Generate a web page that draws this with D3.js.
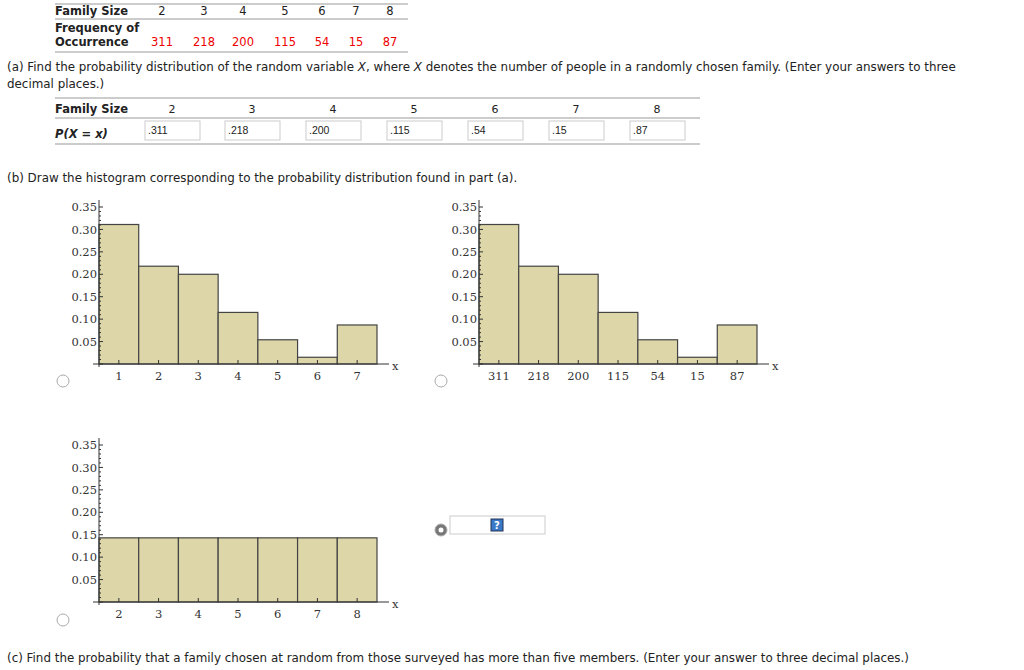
<!DOCTYPE html><html><head><meta charset="utf-8">
<script src="https://cdn.jsdelivr.net/npm/d3@7"></script>
<style>body{margin:0;background:#fff}</style></head><body>
<script>
const familySizes=[2,3,4,5,6,7,8];
const frequencies=[311,218,200,115,54,15,87];
const enteredAnswers=[".311",".218",".200",".115",".54",".15",".87"];
const histA=[0.311,0.218,0.200,0.115,0.054,0.015,0.087];
const labelsA=["1","2","3","4","5","6","7"];
const labelsB=["311","218","200","115","54","15","87"];
const histC=[0.143,0.143,0.143,0.143,0.143,0.143,0.143];
const labelsC=["2","3","4","5","6","7","8"];
const yTicks=[0.05,0.10,0.15,0.20,0.25,0.30,0.35];

const svg=d3.select("body").append("svg").attr("width",1024).attr("height",670);
const SANS="DejaVu Sans, Verdana, sans-serif";
const SERIF="DejaVu Serif, Liberation Serif, serif";
function txt(x,y,s,o={}){const t=svg.append("text").attr("x",x).attr("y",y).text(s)
 .attr("font-family",o.f||SANS).attr("font-size",o.size||12).attr("fill",o.fill||"#222")
 .attr("font-weight",o.w||"normal").attr("text-anchor",o.a||"start");if(o.it)t.attr("font-style","italic");return t;}
function hline(x1,x2,y,c="#999",w=1){svg.append("line").attr("x1",x1).attr("x2",x2).attr("y1",y).attr("y2",y).attr("stroke",c).attr("stroke-width",w);}

hline(55,408,4);hline(55,408,19);hline(55,408,52);
txt(55,15,"Family Size",{w:"bold",size:11.5});
txt(55,32,"Frequency of",{w:"bold",size:11.5});txt(55,46,"Occurrence",{w:"bold",size:11.5});
const colX1=[162,204,243,285,322,356,390];
familySizes.forEach((v,i)=>txt(colX1[i],15,v,{a:"middle",size:11.5}));
frequencies.forEach((v,i)=>txt(colX1[i],46,v,{a:"middle",size:11.5,fill:"#e00"}));

const pa=txt(7,71,"(a) Find the probability distribution of the random variable ",{size:11.9});
pa.append("tspan").text("X").attr("font-style","italic");
pa.append("tspan").text(", where ");
pa.append("tspan").text("X").attr("font-style","italic");
pa.append("tspan").text(" denotes the number of people in a randomly chosen family. (Enter your answers to three");
txt(7,88,"decimal places.)",{size:11.9});

hline(55,700,98);hline(55,700,118);hline(55,700,144);
txt(55,113,"Family Size",{w:"bold",size:11.5});
txt(55,138,"P(X = x)",{w:"bold",size:11.5,it:true});
const colX2=[172,252,333,414,495,576,657];
familySizes.forEach((v,i)=>txt(colX2[i],113,v,{a:"middle",size:11}));
enteredAnswers.forEach((v,i)=>{svg.append("rect").attr("x",colX2[i]-27).attr("y",121).attr("width",55).attr("height",19)
 .attr("fill","#fff").attr("stroke","#ccc");txt(colX2[i]-24,134,v,{size:10.5,f:"Liberation Sans, Arial"});});

txt(7,182,"(b) Draw the histogram corresponding to the probability distribution found in part (a).",{size:11.9});

function hist(ox,base,vals,labels){
 const x=d3.scaleLinear().domain([0,7]).range([ox,ox+278]);
 const y=d3.scaleLinear().domain([0,0.35]).range([base,base-157]);
 const g=svg.append("g");
 g.selectAll("rect.b").data(vals).join("rect").attr("x",(d,i)=>x(i)).attr("y",d=>y(d))
  .attr("width",x(1)-x(0)).attr("height",d=>base-y(d)).attr("fill","#dcd6a8").attr("stroke","#444").attr("stroke-width",1.2);
 g.append("line").attr("x1",ox-6).attr("x2",ox+290).attr("y1",base).attr("y2",base).attr("stroke","#333");
 g.append("line").attr("x1",ox).attr("x2",ox).attr("y1",base+3).attr("y2",base-164).attr("stroke","#333");
 const yAx=d3.axisLeft(y).tickValues(yTicks).tickSize(0).tickPadding(2).tickFormat(d3.format(".2f"));
 const ya=g.append("g").attr("transform",`translate(${ox},0)`).call(yAx);
 ya.attr("font-size",null).attr("font-family",null);
 ya.select(".domain").remove();ya.selectAll("text").attr("font-family",SERIF).attr("font-size",11.5).attr("fill","#333");
 d3.range(0,0.351,0.01).forEach(v=>{const major=Math.abs(v*20-Math.round(v*20))<1e-6;
  g.append("line").attr("x1",ox).attr("x2",ox+(major?4:2)).attr("y1",y(v)).attr("y2",y(v)).attr("stroke","#333");});
 labels.forEach((l,i)=>{const cx=x(i+0.5);
  g.append("line").attr("x1",cx).attr("x2",cx).attr("y1",base).attr("y2",base-4).attr("stroke","#333");
  g.append("text").attr("x",cx).attr("y",base+16).attr("text-anchor","middle").text(l)
   .attr("font-family",SERIF).attr("font-size",11.5).attr("fill","#333");});
 g.append("text").attr("x",ox+293).attr("y",base+6).text("x").attr("font-family",SERIF).attr("font-size",11.5).attr("fill","#333");
}
hist(99,364,histA,labelsA);
hist(479,364,histA,labelsB);
hist(99,602,histC,labelsC);

function radio(x,y,sel){svg.append("circle").attr("cx",x).attr("cy",y).attr("r",6).attr("fill",sel?"#777":"#fff").attr("stroke","#aaa");
 if(sel)svg.append("circle").attr("cx",x).attr("cy",y).attr("r",2.5).attr("fill","#fff");}
radio(63,381,false);radio(441,381,false);radio(63,620,false);radio(441,530,true);
svg.append("rect").attr("x",450).attr("y",516).attr("width",95).attr("height",18).attr("fill","#fff").attr("stroke","#ccc");
svg.append("rect").attr("x",491).attr("y",519).attr("width",12).attr("height",12).attr("fill","#3a78c8").attr("stroke","#235");
txt(497,529,"?",{a:"middle",size:10,fill:"#fff",w:"bold"});

txt(7,662,"(c) Find the probability that a family chosen at random from those surveyed has more than five members. (Enter your answer to three decimal places.)",{size:11.9});
</script></body></html>
